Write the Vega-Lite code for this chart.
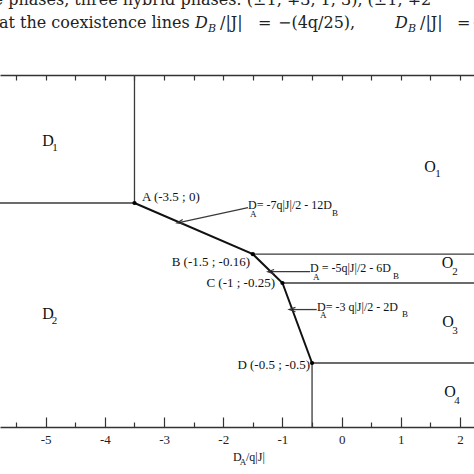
{
  "$schema": "https://vega.github.io/schema/vega-lite/v6.json",
  "width": 474,
  "height": 352,
  "autosize": {"type": "none"},
  "padding": {"left": 0, "top": 75, "right": 0, "bottom": 47},
  "config": {"view": {"stroke": null}, "font": "Liberation Serif", "text": {"font": "Liberation Serif", "color": "#111"}},
  "resolve": {"axis": {"x": "independent", "y": "independent"}},
  "datasets": {
    "segs": [
      {"x": -5.772, "y": 0, "x2": -3.5, "y2": 0},
      {"x": -3.5, "y": 0, "x2": -3.5, "y2": 0.4},
      {"x": -1.5, "y": -0.16, "x2": 2.236, "y2": -0.16},
      {"x": -1, "y": -0.25, "x2": 2.236, "y2": -0.25},
      {"x": -0.5, "y": -0.5, "x2": 2.236, "y2": -0.5},
      {"x": -0.5, "y": -0.5, "x2": -0.5, "y2": -0.7},
      {"x": -1.582, "y": -0.0147, "x2": -2.73, "y2": -0.0603},
      {"x": -0.535, "y": -0.2147, "x2": -1.194, "y2": -0.2147},
      {"x": -0.421, "y": -0.333, "x2": -0.834, "y2": -0.333}
    ],
    "boundary": [
      {"x": -3.5, "y": 0, "ord": 1},
      {"x": -1.5, "y": -0.16, "ord": 2},
      {"x": -1, "y": -0.25, "ord": 3},
      {"x": -0.5, "y": -0.5, "ord": 4}
    ],
    "heads1": [{"x": -2.73, "y": -0.0603}],
    "heads2": [{"x": -1.194, "y": -0.2147}, {"x": -0.834, "y": -0.333}],
    "texts": [
      {"role": "plabelL", "x": -3.373, "y": 0.019, "text": "A (-3.5 ; 0)"},
      {"role": "plabelR", "x": -1.548, "y": -0.184, "text": "B (-1.5 ; -0.16)"},
      {"role": "plabelR", "x": -1.126, "y": -0.25, "text": "C (-1 ; -0.25)"},
      {"role": "plabelR", "x": -0.535, "y": -0.506, "text": "D (-0.5 ; -0.5)"},
      {"role": "region", "x": -4.961, "y": 0.194, "text": "D"},
      {"role": "regionSub", "x": -4.843, "y": 0.172, "text": "1"},
      {"role": "region", "x": -4.961, "y": -0.347, "text": "D"},
      {"role": "regionSub", "x": -4.851, "y": -0.369, "text": "2"},
      {"role": "region", "x": 1.493, "y": 0.111, "text": "O"},
      {"role": "regionSub", "x": 1.628, "y": 0.091, "text": "1"},
      {"role": "region", "x": 1.788, "y": -0.186, "text": "O"},
      {"role": "regionSub", "x": 1.915, "y": -0.216, "text": "2"},
      {"role": "region", "x": 1.797, "y": -0.373, "text": "O"},
      {"role": "regionSub", "x": 1.915, "y": -0.4, "text": "3"},
      {"role": "region", "x": 1.831, "y": -0.592, "text": "O"},
      {"role": "regionSub", "x": 1.949, "y": -0.619, "text": "4"},
      {"role": "eq", "x": -1.582, "y": -0.006, "text": "D= -7q|J|/2 - 12D"},
      {"role": "eqSub", "x": -1.548, "y": -0.034, "text": "A"},
      {"role": "eqSub", "x": -0.163, "y": -0.031, "text": "B"},
      {"role": "eq", "x": -0.535, "y": -0.203, "text": "D = -5q|J|/2 - 6D"},
      {"role": "eqSub", "x": -0.484, "y": -0.23, "text": "A"},
      {"role": "eqSub", "x": 0.868, "y": -0.228, "text": "B"},
      {"role": "eq", "x": -0.416, "y": -0.325, "text": "D= -3 q|J|/2 - 2D"},
      {"role": "eqSub", "x": -0.366, "y": -0.349, "text": "A"},
      {"role": "eqSub", "x": 1.02, "y": -0.347, "text": "B"},
      {"role": "eq", "x": -1.836, "y": -0.794, "text": "D"},
      {"role": "eqSub", "x": -1.72, "y": -0.809, "text": "A"},
      {"role": "eq", "x": -1.616, "y": -0.794, "text": "/q|J|"},
      {"role": "body", "x": -5.88, "y": 0.619, "text": "e phases, three hybrid phases: (±1, ∓3, 1, 3), (±1, ∓2"},
      {"role": "body", "x": -5.789, "y": 0.547, "text": "at the coexistence lines"},
      {"role": "bodyIt", "x": -2.478, "y": 0.547, "text": "D"},
      {"role": "bodySub", "x": -2.258, "y": 0.534, "text": "B"},
      {"role": "body", "x": -2.055, "y": 0.547, "text": "/|J|"},
      {"role": "body", "x": -1.413, "y": 0.547, "text": "="},
      {"role": "body", "x": -1.075, "y": 0.547, "text": "−(4q/25),"},
      {"role": "bodyIt", "x": 0.901, "y": 0.547, "text": "D"},
      {"role": "bodySub", "x": 1.121, "y": 0.534, "text": "B"},
      {"role": "body", "x": 1.324, "y": 0.547, "text": "/|J|"},
      {"role": "body", "x": 1.949, "y": 0.547, "text": "="},
      {"role": "body", "x": 2.202, "y": 0.547, "text": "−"}
    ]
  },
  "layer": [
    {
      "data": {"name": "segs"},
      "mark": {"type": "rule", "color": "#3a3a3a", "strokeWidth": 1.3},
      "encoding": {
        "x": {"field": "x", "type": "quantitative", "scale": {"domain": [-5.772, 2.236], "nice": false, "zero": false},
          "axis": {"orient": "bottom", "values": [-5, -4, -3, -2, -1, 0, 1, 2], "labelExpr": "replace(datum.label, '−', '-')", "tickSize": -10, "labelPadding": 16, "labelFontSize": 13, "labelFont": "Liberation Serif", "labelColor": "#222", "title": null, "grid": false, "domainColor": "#333", "domainWidth": 1.3, "tickColor": "#333", "tickWidth": 1.2, "labelFlush": false}},
        "y": {"field": "y", "type": "quantitative", "scale": {"domain": [-0.7, 0.4], "nice": false, "zero": false}, "axis": null},
        "x2": {"field": "x2"},
        "y2": {"field": "y2"}
      }
    },
    {
      "data": {"name": "boundary"},
      "mark": {"type": "line", "color": "#111", "strokeWidth": 2},
      "encoding": {
        "x": {"field": "x", "type": "quantitative",
          "axis": {"orient": "bottom", "values": [-5.5, -4.5, -3.5, -2.5, -1.5, -0.5, 0.5, 1.5], "tickSize": -5, "labels": false, "domain": false, "title": null, "grid": false, "tickColor": "#333", "tickWidth": 1.2}},
        "y": {"field": "y", "type": "quantitative", "axis": null},
        "order": {"field": "ord"}
      }
    },
    {
      "data": {"name": "boundary"},
      "mark": {"type": "point", "filled": true, "color": "#000", "size": 18, "opacity": 1},
      "encoding": {
        "x": {"field": "x", "type": "quantitative",
          "axis": {"orient": "top", "values": [-5.5, -5, -4.5, -4, -3.5, -3, -2.5, -2, -1.5, -1, -0.5, 0, 0.5, 1, 1.5, 2], "tickSize": -5, "labels": false, "title": null, "grid": false, "domainColor": "#333", "domainWidth": 1.3, "tickColor": "#333", "tickWidth": 1.2}},
        "y": {"field": "y", "type": "quantitative", "axis": null}
      }
    },
    {
      "data": {"name": "heads1"},
      "mark": {"type": "point", "shape": "M 1 -0.7 L -1 0 L 1 0.7", "filled": false, "color": "#333", "strokeWidth": 1.2, "size": 40, "angle": -12, "opacity": 1},
      "encoding": {
        "x": {"field": "x", "type": "quantitative", "axis": null},
        "y": {"field": "y", "type": "quantitative", "axis": null}
      }
    },
    {
      "data": {"name": "heads2"},
      "mark": {"type": "point", "shape": "M 1 -0.7 L -1 0 L 1 0.7", "filled": false, "color": "#333", "strokeWidth": 1.2, "size": 40, "opacity": 1},
      "encoding": {
        "x": {"field": "x", "type": "quantitative", "axis": null},
        "y": {"field": "y", "type": "quantitative", "axis": null}
      }
    },
    {
      "data": {"name": "texts"},
      "transform": [{"filter": "datum.role == 'plabelL'"}],
      "mark": {"type": "text", "align": "left", "baseline": "middle", "fontSize": 13},
      "encoding": {"x": {"field": "x", "type": "quantitative", "axis": null}, "y": {"field": "y", "type": "quantitative", "axis": null}, "text": {"field": "text"}}
    },
    {
      "data": {"name": "texts"},
      "transform": [{"filter": "datum.role == 'plabelR'"}],
      "mark": {"type": "text", "align": "right", "baseline": "middle", "fontSize": 13},
      "encoding": {"x": {"field": "x", "type": "quantitative", "axis": null}, "y": {"field": "y", "type": "quantitative", "axis": null}, "text": {"field": "text"}}
    },
    {
      "data": {"name": "texts"},
      "transform": [{"filter": "datum.role == 'region'"}],
      "mark": {"type": "text", "align": "center", "baseline": "middle", "fontSize": 16},
      "encoding": {"x": {"field": "x", "type": "quantitative", "axis": null}, "y": {"field": "y", "type": "quantitative", "axis": null}, "text": {"field": "text"}}
    },
    {
      "data": {"name": "texts"},
      "transform": [{"filter": "datum.role == 'regionSub'"}],
      "mark": {"type": "text", "align": "center", "baseline": "middle", "fontSize": 11},
      "encoding": {"x": {"field": "x", "type": "quantitative", "axis": null}, "y": {"field": "y", "type": "quantitative", "axis": null}, "text": {"field": "text"}}
    },
    {
      "data": {"name": "texts"},
      "transform": [{"filter": "datum.role == 'eq'"}],
      "mark": {"type": "text", "align": "left", "baseline": "middle", "fontSize": 12},
      "encoding": {"x": {"field": "x", "type": "quantitative", "axis": null}, "y": {"field": "y", "type": "quantitative", "axis": null}, "text": {"field": "text"}}
    },
    {
      "data": {"name": "texts"},
      "transform": [{"filter": "datum.role == 'eqSub'"}],
      "mark": {"type": "text", "align": "left", "baseline": "middle", "fontSize": 9},
      "encoding": {"x": {"field": "x", "type": "quantitative", "axis": null}, "y": {"field": "y", "type": "quantitative", "axis": null}, "text": {"field": "text"}}
    },
    {
      "data": {"name": "texts"},
      "transform": [{"filter": "datum.role == 'body'"}],
      "mark": {"type": "text", "align": "left", "baseline": "alphabetic", "fontSize": 16, "font": "DejaVu Serif", "color": "#222"},
      "encoding": {"x": {"field": "x", "type": "quantitative", "axis": null}, "y": {"field": "y", "type": "quantitative", "axis": null}, "text": {"field": "text"}}
    },
    {
      "data": {"name": "texts"},
      "transform": [{"filter": "datum.role == 'bodyIt'"}],
      "mark": {"type": "text", "align": "left", "baseline": "alphabetic", "fontSize": 16, "font": "DejaVu Serif", "fontStyle": "italic", "color": "#222"},
      "encoding": {"x": {"field": "x", "type": "quantitative", "axis": null}, "y": {"field": "y", "type": "quantitative", "axis": null}, "text": {"field": "text"}}
    },
    {
      "data": {"name": "texts"},
      "transform": [{"filter": "datum.role == 'bodySub'"}],
      "mark": {"type": "text", "align": "left", "baseline": "alphabetic", "fontSize": 11, "font": "DejaVu Serif", "fontStyle": "italic", "color": "#222"},
      "encoding": {"x": {"field": "x", "type": "quantitative", "axis": null}, "y": {"field": "y", "type": "quantitative", "axis": null}, "text": {"field": "text"}}
    }
  ]
}
